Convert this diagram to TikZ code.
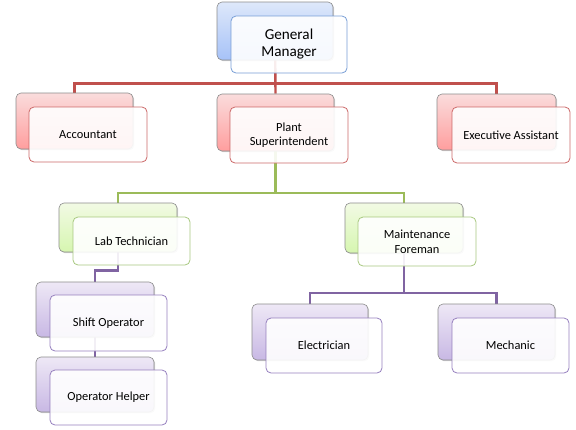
\documentclass[tikz,border=0pt]{standalone}
\usepackage{fontspec}
\setmainfont{Carlito}
\usetikzlibrary{shadows,backgrounds}
\definecolor{redline}{HTML}{C0504D}
\definecolor{greenline}{HTML}{9BBB59}
\definecolor{purpleline}{HTML}{8064A2}
\tikzset{
  backbox/.style={draw=black!45, line width=0.6pt, rounded corners=5pt,
    minimum width=117pt, minimum height=56pt, inner sep=0pt,
    drop shadow={shadow xshift=1.2pt, shadow yshift=-1.2pt, opacity=0.35}},
  blueback/.style={backbox, top color={rgb,255:red,222;green,232;blue,250}, bottom color={rgb,255:red,166;green,194;blue,248}},
  redback/.style={backbox, top color={rgb,255:red,250;green,220;blue,220}, bottom color={rgb,255:red,255;green,158;blue,158}},
  greenback/.style={backbox, top color={rgb,255:red,242;green,250;blue,228}, bottom color={rgb,255:red,214;green,246;blue,176}},
  purpleback/.style={backbox, top color={rgb,255:red,238;green,232;blue,246}, bottom color={rgb,255:red,200;green,184;blue,228}},
  frontbox/.style={line width=0.8pt, rounded corners=5pt, fill=white, fill opacity=0.9, text opacity=1,
    minimum width=117pt, minimum height=56pt, inner sep=0pt, align=center,
    font=\fontsize{12.4}{14}\selectfont},
  bluefront/.style={frontbox, draw={rgb,255:red,120;green,158;blue,214}},
  redfront/.style={frontbox, draw={rgb,255:red,204;green,104;blue,104}},
  greenfront/.style={frontbox, draw={rgb,255:red,168;green,200;blue,128}},
  purplefront/.style={frontbox, draw={rgb,255:red,150;green,128;blue,190}},
  conn/.style={line width=2.4pt}
}
\begin{document}
\begin{tikzpicture}[x=1pt,y=-1pt]
\useasboundingbox (0,0) rectangle (576,429);
% back boxes
\node[blueback, minimum width=116pt, minimum height=58pt] (gmB) at (275,31) {};
\node[redback] (accB) at (74.5,121) {};
\node[redback, minimum height=57pt] (psB) at (275.5,122.5) {};
\node[redback, minimum width=119pt] (eaB) at (496.5,122) {};
\node[greenback, minimum width=118pt, minimum height=49pt] (ltB) at (118,227.5) {};
\node[greenback, minimum width=118pt, minimum height=50pt] (mfB) at (404,228) {};
\node[purpleback, minimum width=118pt, minimum height=55pt] (soB) at (95,309.5) {};
\node[purpleback, minimum width=118pt, minimum height=55pt] (ohB) at (95,384.5) {};
\node[purpleback, minimum width=116pt] (elB) at (310,332) {};
\node[purpleback] (meB) at (496.5,332) {};
% connectors
\begin{pgfonlayer}{background}
\draw[conn, redline] (gmB.center) -- (gmB.center |- 0,83.5) -| (accB.north);
\draw[conn, redline] (gmB.center) -- (psB.north);
\draw[conn, redline] (gmB.center |- 0,83.5) -| (eaB.north);
\draw[conn, greenline] (psB.center) -- (psB.center |- 0,193) -| (ltB.north);
\draw[conn, greenline] (psB.center |- 0,193) -| (mfB.north);
\draw[conn, purpleline] (ltB.center) -- (ltB.center |- 0,270.5) -| (soB.north);
\draw[conn, purpleline] (soB.center) -- (ohB.north);
\draw[conn, purpleline] (mfB.center) -- (mfB.center |- 0,293) -| (elB.north);
\draw[conn, purpleline] (mfB.center |- 0,293) -| (meB.north);
\end{pgfonlayer}
% front boxes
\node[bluefront, minimum width=116pt, minimum height=57pt, font=\fontsize{15.2}{17}\selectfont] (gm) at (289,44.5) {General\\Manager};
\node[redfront, minimum width=118pt, minimum height=55pt] (acc) at (88,134.5) {Accountant};
\node[redfront, minimum width=118pt] (ps) at (289,135) {Plant\\Superintendent};
\node[redfront, minimum width=118pt] (ea) at (511,135) {Executive Assistant};
\node[greenfront, minimum width=117pt, minimum height=48pt] (lt) at (131.5,241) {Lab Technician};
\node[greenfront, minimum width=118pt, minimum height=49pt, font=\fontsize{12.4}{15}\selectfont] (mf) at (417,241.5) {Maintenance\\Foreman};
\node[purplefront, minimum height=56pt] (so) at (108.5,323) {Shift Operator};
\node[purplefront, minimum height=55pt] (oh) at (108.5,397.5) {Operator Helper};
\node[purplefront, minimum width=116pt, minimum height=55pt] (el) at (324,345.5) {Electrician};
\node[purplefront, minimum height=55pt] (me) at (510.5,345.5) {Mechanic};
\end{tikzpicture}
\end{document}
